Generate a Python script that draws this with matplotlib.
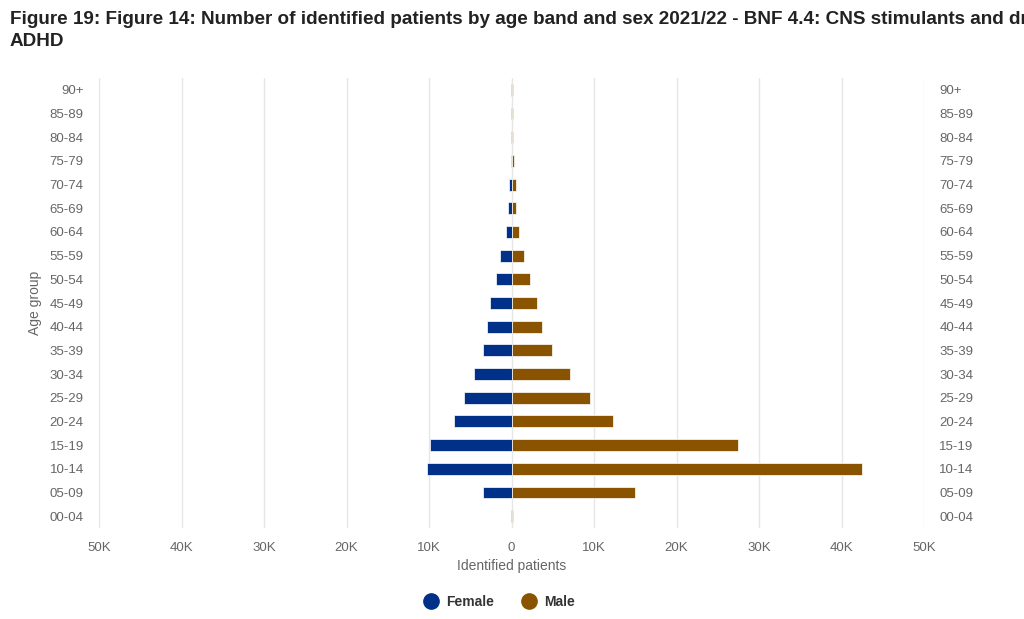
import matplotlib.pyplot as plt
from matplotlib.lines import Line2D
from matplotlib.ticker import FuncFormatter

plt.rcParams['font.family'] = ['Liberation Sans', 'DejaVu Sans']

# 年龄段（从下到上）
age_bands = ['00-04', '05-09', '10-14', '15-19', '20-24', '25-29', '30-34',
             '35-39', '40-44', '45-49', '50-54', '55-59', '60-64', '65-69',
             '70-74', '75-79', '80-84', '85-89', '90+']
female = [20, 3500, 10300, 9900, 7000, 5700, 4550, 3500, 3000, 2600, 1900,
          1350, 650, 400, 300, 80, 30, 20, 10]
male = [150, 15000, 42500, 27400, 12350, 9500, 7150, 4900, 3650, 3050, 2200,
        1500, 850, 550, 500, 250, 150, 150, 150]
x_ticks = [-50000, -40000, -30000, -20000, -10000, 0, 10000, 20000, 30000, 40000, 50000]

female_color = '#003087'
male_color = '#8A5300'
tick_color = '#666666'

fig = plt.figure(figsize=(10.24, 6.19), dpi=100)
ax = fig.add_axes([99 / 1024, 1 - 528 / 619, 825 / 1024, 450 / 619])

y = range(len(age_bands))
ax.barh(y, [-v for v in female], height=0.5, color=female_color,
        edgecolor='white', linewidth=0.5, zorder=3)
ax.barh(y, male, height=0.5, color=male_color,
        edgecolor='white', linewidth=0.5, zorder=3)

ax.set_xlim(-50000, 50000)
ax.set_ylim(-0.5, len(age_bands) - 0.5)
ax.set_xticks(x_ticks)
ax.xaxis.set_major_formatter(FuncFormatter(
    lambda v, p: '0' if v == 0 else '%dK' % abs(round(v / 1000))))
ax.set_yticks(list(y))
ax.set_yticklabels(age_bands)
ax.tick_params(axis='both', length=0, colors=tick_color, labelsize=9.5)
ax.tick_params(axis='x', pad=10)
ax.tick_params(axis='y', pad=11, labelright=True, right=False)
for lab in ax.get_yticklabels():
    lab.set_color(tick_color)

ax.grid(axis='x', color='#e6e6e6', linewidth=1, zorder=0)
ax.grid(axis='y', visible=False)
for s in ax.spines.values():
    s.set_visible(False)

ax.set_xlabel('Identified patients', color=tick_color, fontsize=10, labelpad=4)
ax.set_ylabel('Age group', color=tick_color, fontsize=10)
ax.yaxis.set_label_coords((42 - 99) / 825, 0.5)

# 标题（和原图一样在右侧被截断）
fig.text(10 / 1024, 1 - 20 / 619,
         'Figure 19: Figure 14: Number of identified patients by age band and sex '
         '2021/22 - BNF 4.4: CNS stimulants and drugs used for',
         fontsize=13.6, fontweight='bold', color='#222222', va='center', ha='left')
fig.text(10 / 1024, 1 - 42 / 619, 'ADHD',
         fontsize=13.6, fontweight='bold', color='#222222', va='center', ha='left')

# 图例
handles = [Line2D([], [], marker='o', linestyle='', markersize=11, color=female_color),
           Line2D([], [], marker='o', linestyle='', markersize=11, color=male_color)]
leg = fig.legend(handles, ['Female', 'Male'], loc='center',
                 bbox_to_anchor=(496 / 1024, 1 - 602 / 619),
                 ncol=2, frameon=False, handletextpad=0.1, columnspacing=1.5,
                 prop={'weight': 'bold', 'size': 10})
for t in leg.get_texts():
    t.set_color('#333333')

plt.savefig('out.png', dpi=100)
